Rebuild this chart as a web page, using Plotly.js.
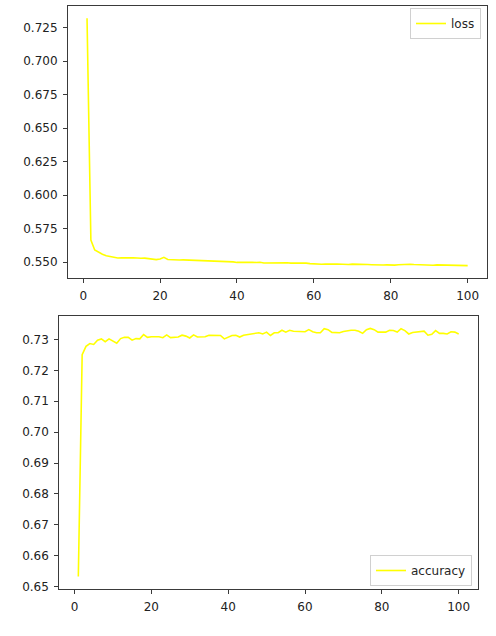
<!DOCTYPE html>
<html>
<head>
<meta charset="utf-8">
<script src="https://cdn.plot.ly/plotly-3.0.1.min.js"></script>
<style>
  html, body { margin: 0; padding: 0; background: #ffffff; }
  #chart { width: 496px; height: 636px; }
</style>
</head>
<body>
<div id="chart"></div>
<script>
// training history
const epochs = Array.from({ length: 100 }, (_, i) => i + 1);

const loss = [
  0.7318, 0.5666, 0.5592, 0.5575, 0.5560, 0.5549, 0.5542, 0.5537, 0.5532, 0.5533,
  0.5531, 0.5533, 0.5534, 0.5531, 0.5530, 0.5531, 0.5528, 0.5523, 0.5520, 0.5524,
  0.5537, 0.5521, 0.5518, 0.5517, 0.5517, 0.5518, 0.5517, 0.5515, 0.5516, 0.5515,
  0.5513, 0.5510, 0.5509, 0.5508, 0.5508, 0.5507, 0.5506, 0.5507, 0.5503, 0.5499,
  0.5500, 0.5501, 0.5499, 0.5500, 0.5498, 0.5500, 0.5495, 0.5496, 0.5497, 0.5496,
  0.5497, 0.5499, 0.5496, 0.5494, 0.5495, 0.5493, 0.5496, 0.5494, 0.5490, 0.5487,
  0.5486, 0.5485, 0.5487, 0.5489, 0.5486, 0.5487, 0.5485, 0.5484, 0.5483, 0.5486,
  0.5484, 0.5483, 0.5482, 0.5483, 0.5482, 0.5480, 0.5481, 0.5480, 0.5481, 0.5479,
  0.5479, 0.5482, 0.5484, 0.5482, 0.5485, 0.5483, 0.5481, 0.5482, 0.5480, 0.5477,
  0.5478, 0.5481, 0.5480, 0.5478, 0.5479, 0.5478, 0.5478, 0.5477, 0.5476, 0.5475
];

const accuracy = [
  0.6532, 0.7251, 0.7278, 0.7287, 0.7284, 0.7298, 0.7302, 0.7293, 0.7302, 0.7295,
  0.7288, 0.7303, 0.7307, 0.7307, 0.7298, 0.7303, 0.7302, 0.7316, 0.7307, 0.7309,
  0.7310, 0.7309, 0.7306, 0.7315, 0.7306, 0.7308, 0.7308, 0.7314, 0.7311, 0.7305,
  0.7315, 0.7308, 0.7308, 0.7309, 0.7314, 0.7313, 0.7312, 0.7313, 0.7302, 0.7308,
  0.7313, 0.7314, 0.7308, 0.7314, 0.7316, 0.7316, 0.7318, 0.7322, 0.7318, 0.7324,
  0.7313, 0.7322, 0.7322, 0.7330, 0.7324, 0.7330, 0.7327, 0.7326, 0.7324, 0.7325,
  0.7332, 0.7325, 0.7322, 0.7322, 0.7335, 0.7332, 0.7323, 0.7322, 0.7322, 0.7326,
  0.7329, 0.7330, 0.7330, 0.7327, 0.7320, 0.7332, 0.7336, 0.7332, 0.7324, 0.7324,
  0.7324, 0.7330, 0.7329, 0.7324, 0.7335, 0.7329, 0.7318, 0.7323, 0.7325, 0.7326,
  0.7327, 0.7314, 0.7317, 0.7329, 0.7320, 0.7320, 0.7318, 0.7325, 0.7324, 0.7318
];

const xTicks = [0, 20, 40, 60, 80, 100];

const W = 496, H = 636;
const FONT = "DejaVu Sans, sans-serif";

// pad like matplotlib's 5% margins
function padded(vals) {
  const lo = Math.min(...vals), hi = Math.max(...vals);
  const m = (hi - lo) * 0.05;
  return [lo - m, hi + m];
}

const axisStyle = {
  showgrid: false,
  zeroline: false,
  showline: true,
  mirror: true,
  linecolor: "#3a3a3a",
  linewidth: 1,
  ticks: "outside",
  ticklen: 4,
  tickwidth: 1,
  tickcolor: "#3a3a3a",
  tickfont: { family: FONT, size: 12, color: "#222222" },
  ticklabelstandoff: 3,
};

const traces = [
  {
    type: "scatter",
    mode: "lines",
    name: "loss",
    x: epochs,
    y: loss,
    xaxis: "x",
    yaxis: "y",
    line: { color: "#ffff00", width: 1.6 },
    legend: "legend",
  },
  {
    type: "scatter",
    mode: "lines",
    name: "accuracy",
    x: epochs,
    y: accuracy,
    xaxis: "x2",
    yaxis: "y2",
    line: { color: "#ffff00", width: 1.6 },
    legend: "legend2",
  },
];

const legendStyle = {
  font: { family: FONT, size: 12, color: "#262626" },
  bgcolor: "rgba(255,255,255,0.9)",
  bordercolor: "#d0d0d0",
  borderwidth: 1,
  itemwidth: 30,
};

const layout = {
  width: W,
  height: H,
  paper_bgcolor: "#ffffff",
  plot_bgcolor: "#ffffff",
  margin: { l: 0, r: 0, t: 0, b: 0 },
  showlegend: true,
  xaxis: Object.assign({}, axisStyle, {
    domain: [68 / W, 486.7 / W],
    range: [-3.95, 104.95],
    tickvals: xTicks,
    anchor: "y",
  }),
  yaxis: Object.assign({}, axisStyle, {
    domain: [1 - 278 / H, 1 - 6 / H],
    range: padded(loss),
    dtick: 0.025,
    tick0: 0.5,
    tickformat: ".3f",
    anchor: "x",
  }),
  xaxis2: Object.assign({}, axisStyle, {
    domain: [59.3 / W, 477.7 / W],
    range: [-3.95, 104.95],
    tickvals: xTicks,
    anchor: "y2",
  }),
  yaxis2: Object.assign({}, axisStyle, {
    domain: [1 - 589 / H, 1 - 316 / H],
    range: padded(accuracy),
    dtick: 0.01,
    tick0: 0.6,
    tickformat: ".2f",
    anchor: "x2",
  }),
  legend: Object.assign({}, legendStyle, {
    x: 481 / W,
    xanchor: "right",
    y: 1 - 8 / H,
    yanchor: "top",
  }),
  legend2: Object.assign({}, legendStyle, {
    x: 472 / W,
    xanchor: "right",
    y: 1 - 586 / H,
    yanchor: "bottom",
  }),
};

Plotly.newPlot("chart", traces, layout, { displayModeBar: false, staticPlot: true });
</script>
</body>
</html>
